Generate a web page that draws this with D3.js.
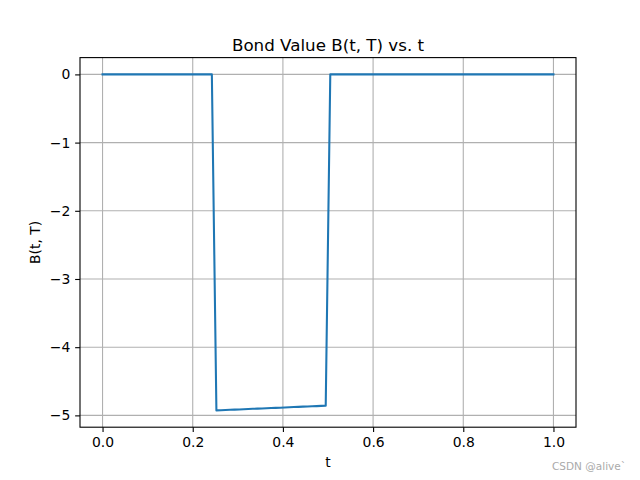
<!DOCTYPE html>
<html><head><meta charset="utf-8">
<script src="https://cdn.jsdelivr.net/npm/d3@7"></script>
<style>body{margin:0;background:#fff}svg{display:block}text{font-family:"DejaVu Sans",sans-serif}</style>
</head><body>
<svg id="c" width="640" height="480"></svg>
<script>
const title = "Bond Value B(t, T) vs. t";
const xLabel = "t";
const yLabel = "B(t, T)";
const xTicks = [0.0, 0.2, 0.4, 0.6, 0.8, 1.0];
const yTicks = [0, -1, -2, -3, -4, -5];
const firstFlat = [0,0,0,0,0,0,0,0,0,0,0,0,0,0,0,0,0,0,0,0,0,0,0,0,0];
const middle = [-4.927,-4.924,-4.921,-4.918,-4.916,-4.913,-4.910,-4.907,-4.904,-4.901,-4.898,-4.895,-4.893,-4.890,-4.887,-4.884,-4.881,-4.878,-4.875,-4.872,-4.869,-4.867,-4.864,-4.861,-4.858];
const lastFlat = [0,0,0,0,0,0,0,0,0,0,0,0,0,0,0,0,0,0,0,0,0,0,0,0,0,0,0,0,0,0,0,0,0,0,0,0,0,0,0,0,0,0,0,0,0,0,0,0,0,0];
const values = firstFlat.concat(middle, lastFlat);
const tValues = values.map((v,i)=>i/(values.length-1));

const L=80,R=576,T=57.6,B=427.2;
const svg=d3.select("#c");
const yMin=d3.min(values), yMax=d3.max(values), span=yMax-yMin;
const x=d3.scaleLinear().domain([-0.05,1.05]).range([L,R]);
const y=d3.scaleLinear().domain([yMin-0.05*span,yMax+0.05*span]).range([B,T]);

// grid
svg.append("g").selectAll("line").data(xTicks).join("line")
 .attr("x1",d=>x(d)).attr("x2",d=>x(d)).attr("y1",T).attr("y2",B)
 .attr("stroke","#b0b0b0").attr("stroke-width",1.1);
svg.append("g").selectAll("line").data(yTicks).join("line")
 .attr("y1",d=>y(d)).attr("y2",d=>y(d)).attr("x1",L).attr("x2",R)
 .attr("stroke","#b0b0b0").attr("stroke-width",1.1);

// line
svg.append("path").datum(values)
 .attr("d",d3.line().x((d,i)=>x(tValues[i])).y(d=>y(d)))
 .attr("fill","none").attr("stroke","#1f77b4").attr("stroke-width",2.08)
 .attr("stroke-linecap","square").attr("stroke-linejoin","round");

// axes
const fmtX=d=>d.toFixed(1);
const fmtY=d=>(d<0?"\u2212":"")+Math.abs(d);
const xa=svg.append("g").attr("transform",`translate(0,${B})`)
 .call(d3.axisBottom(x).tickValues(xTicks).tickFormat(fmtX).tickSize(4.86).tickPadding(4.86));
const ya=svg.append("g").attr("transform",`translate(${L},0)`)
 .call(d3.axisLeft(y).tickValues(yTicks).tickFormat(fmtY).tickSize(4.86).tickPadding(4.86));
[xa,ya].forEach(a=>{a.select(".domain").remove();
 a.selectAll("text").attr("font-size",13.9).attr("fill","#000").attr("font-family","DejaVu Sans");
 a.selectAll("line").attr("stroke","#000").attr("stroke-width",1.1);});

svg.append("rect").attr("x",L).attr("y",T).attr("width",R-L).attr("height",B-T)
 .attr("fill","none").attr("stroke","#000").attr("stroke-width",1.1);

svg.append("text").attr("x",(L+R)/2).attr("y",T-7).attr("text-anchor","middle")
 .attr("font-size",16.7).text(title);
svg.append("text").attr("x",(L+R)/2).attr("y",467).attr("text-anchor","middle")
 .attr("font-size",13.9).text(xLabel);
svg.append("text").attr("transform",`translate(40,${(T+B)/2}) rotate(-90)`).attr("text-anchor","middle")
 .attr("font-size",13.9).text(yLabel);
svg.append("text").attr("x",626).attr("y",470).attr("text-anchor","end")
 .attr("font-size",10.5).attr("fill","#aaaaaa").attr("font-family","Liberation Sans, Arial, sans-serif").text("CSDN @alive`");
</script>
</body></html>
